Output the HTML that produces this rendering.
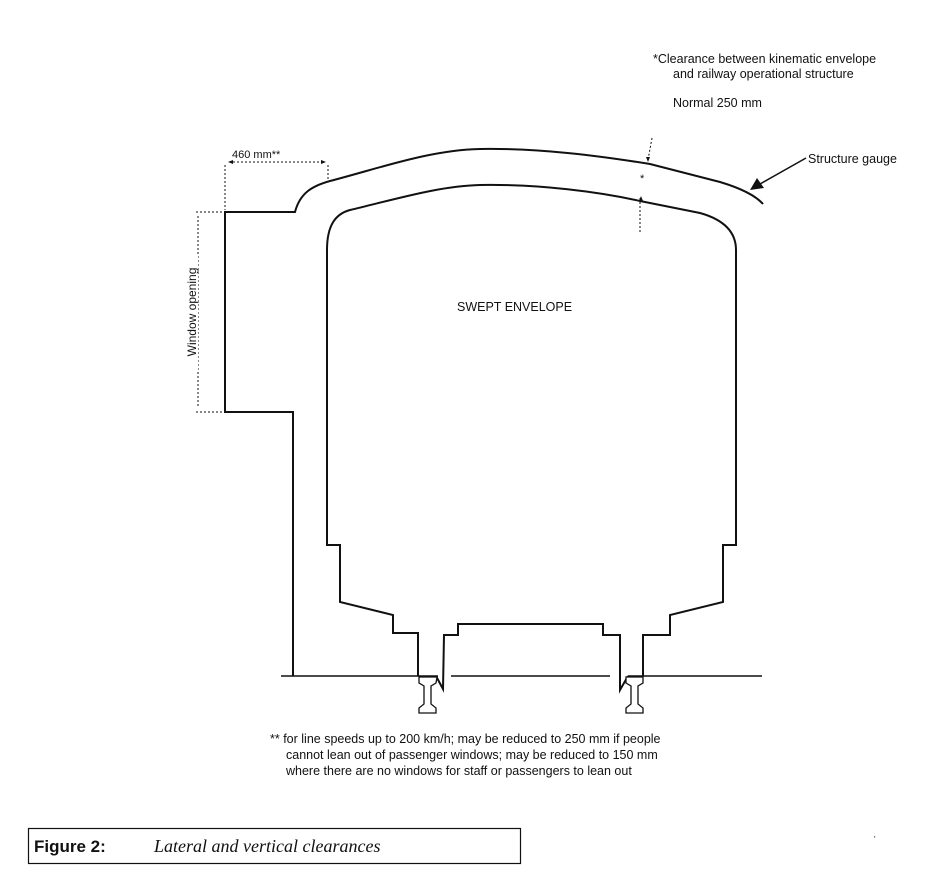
<!DOCTYPE html>
<html><head><meta charset="utf-8"><style>
html,body{margin:0;padding:0;background:#fff}
svg{display:block}
text{font-family:"Liberation Sans",sans-serif;fill:#111}
</style></head><body>
<svg width="942" height="882" viewBox="0 0 942 882" xmlns="http://www.w3.org/2000/svg">
<g fill="none" stroke="#111" stroke-width="2" stroke-linejoin="miter">
<!-- outer structure gauge -->
<path d="M293,676 L293,412 L225,412 L225,212 L295,212 C300,193 312,186 330,181 C380,168 430,150 480,149 C540,148 600,156 650,164 L720,182 C740,188 755,195 763,204"/>
<!-- inner swept envelope -->
<path d="M418,676 L418,633 L393,633 L393,615 L340,602 L340,545 L327,545 L327,250 C327,226 335,214 350,210 C400,198 440,186 480,185 C540,184 600,192 640,201 L700,213 C725,220 736,233 736,250 L736,545 L723,545 L723,602 L670,615 L670,635 L643,635 L643,676"/>
<path d="M436,676 L443,689 L444,635 L458,635 L458,624 L603,624 L603,635 L620,635 L620,690 L628,676"/>
<!-- ground -->
<path d="M281,676 L438,676 M451,676 L610,676 M628,676 L762,676" stroke-width="1.6"/>
</g>
<!-- rails -->
<g fill="#fff" stroke="#111" stroke-width="1.3">
<path d="M419,677 L437,677 L436,683 L431,686 L431,704 L436,708 L436,713 L419,713 L419,708 L424,704 L424,686 L419,683 Z"/>
<path d="M626,677 L643,677 L643,683 L638,686 L638,704 L643,708 L643,713 L626,713 L626,708 L631,704 L631,686 L626,683 Z"/>
</g>
<!-- dimension lines -->
<g stroke="#111" stroke-width="1" stroke-dasharray="2,2" fill="none">
<path d="M225,165 L225,210 M328,165 L328,180 M229,162 L324,162"/>
<path d="M198,216 L198,408 M196,212 L225,212 M196,412 L225,412"/>
<path d="M652,138 L648,160 M640,198 L640,232"/>
</g>
<path d="M228,162 l5,-2 l0,4 z M326,162 l-5,-2 l0,4 z" fill="#111"/>
<path d="M648,162 l-2,-5 l4,0 z M641,196 l-2,5 l4,0 z" fill="#111"/>
<!-- structure gauge arrow -->
<path d="M806,158 L760,184" stroke="#111" stroke-width="1.5"/>
<path d="M750,190 L757,178 L764,188 Z" fill="#111"/>
<text x="640" y="182" font-size="11">*</text>
<!-- labels -->
<text x="232" y="158" font-size="11">460 mm**</text>
<rect x="186" y="255" width="12" height="115" fill="#fff"/>
<text transform="translate(196,312) rotate(-90)" font-size="12" text-anchor="middle">Window opening</text>
<text x="457" y="311" font-size="12.5">SWEPT ENVELOPE</text>
<text x="808" y="163" font-size="12.5">Structure gauge</text>
<text x="653" y="63" font-size="12.5">*Clearance between kinematic envelope</text>
<text x="673" y="78" font-size="12.5">and railway operational structure</text>
<text x="673" y="107" font-size="12.5">Normal 250 mm</text>
<text x="270" y="743" font-size="12.5">** for line speeds up to 200 km/h; may be reduced to 250 mm if people</text>
<text x="286" y="759" font-size="12.5">cannot lean out of passenger windows; may be reduced to 150 mm</text>
<text x="286" y="775" font-size="12.5">where there are no windows for staff or passengers to lean out</text>
<!-- caption -->
<rect x="28.5" y="828.5" width="492" height="35" fill="none" stroke="#111" stroke-width="1.2"/>
<text x="34" y="852" font-size="17" font-weight="bold">Figure 2:</text>
<text x="154" y="852" font-size="18" font-style="italic" style="font-family:'Liberation Serif',serif">Lateral and vertical clearances</text>
<text x="874" y="842" font-size="8">'</text>
</svg>
</body></html>
